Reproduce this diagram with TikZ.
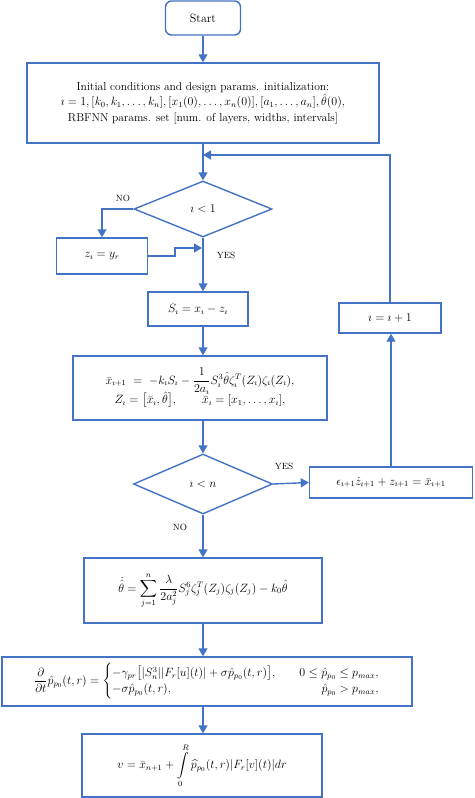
\documentclass[tikz,border=0pt]{standalone}
\usepackage{amsmath}
\usetikzlibrary{shapes.geometric,arrows.meta}
\definecolor{fcblue}{RGB}{68,114,196}
\begin{document}
\begin{tikzpicture}[x=1pt,y=-1pt,
  box/.style={draw=fcblue, line width=1.4pt, fill=white, inner sep=2pt, align=center, font=\fontsize{12}{16}\selectfont},
  dec/.style={diamond, draw=fcblue, line width=1.4pt, fill=white, inner sep=0pt, font=\fontsize{12}{14}\selectfont},
  arr/.style={draw=fcblue, line width=1.4pt, -{Triangle[length=8pt,width=9pt]}},
  lbl/.style={font=\fontsize{9}{10}\selectfont, inner sep=1pt}]
\useasboundingbox[fill=white] (0,0) rectangle (474,798);

\node[box, rounded corners=6pt, minimum width=75pt, minimum height=34pt] (start) at (203,18) {Start};
\node[box, minimum width=352pt, minimum height=80pt, font=\fontsize{11.5}{15.5}\selectfont] (init) at (203,103)
  {Initial conditions and design params. initialization:\\
   $\imath=1, [k_0,k_1,\dots,k_n], [x_1(0),\dots,x_n(0)], [a_1,\dots,a_n], \hat{\theta}(0),$\\
   RBFNN params. set [num. of layers, widths, intervals]};
\node[dec, minimum width=138pt, minimum height=56pt] (d1) at (203,209) {$\imath<1$};
\node[box, minimum width=91pt, minimum height=36pt] (z) at (102,256) {$z_\imath = y_r$};
\node[box, minimum width=100pt, minimum height=34pt] (S) at (198,309) {$S_\imath = x_\imath - z_\imath$};
\node[box, minimum width=254pt, minimum height=64pt] (xb) at (200,388)
  {$\bar{x}_{\imath+1} \;=\; -k_\imath S_\imath - \dfrac{1}{2a_\imath} S_\imath^3\hat{\theta}\zeta_\imath^T(Z_\imath)\zeta_\imath(Z_\imath),$\\[-3pt]
   $Z_\imath = \bigl[\bar{x}_\imath,\hat{\theta}\bigr],\qquad \bar{x}_\imath = [x_1,\dots,x_\imath],$};
\node[dec, minimum width=139pt, minimum height=60pt] (d2) at (203,484) {$\imath<n$};
\node[box, minimum width=163pt, minimum height=31pt] (eps) at (391,482.5) {$\epsilon_{\imath+1}\dot{z}_{\imath+1} + z_{\imath+1} = \bar{x}_{\imath+1}$};
\node[box, minimum width=102pt, minimum height=30pt] (inc) at (390,318) {$\imath = \imath + 1$};
\node[box, minimum width=238pt, minimum height=65pt] (th) at (203,590.5)
  {$\dot{\hat{\theta}} = \displaystyle\sum_{j=1}^{n} \frac{\lambda}{2a_j^2} S_j^6\zeta_j^T(Z_j)\zeta_j(Z_j) - k_0\hat{\theta}$};
\node[box, minimum width=410pt, minimum height=49pt] (p) at (207,681.5)
  {$\dfrac{\partial}{\partial t}\hat{p}_{p_0}(t,r) = \left\{\begin{array}{@{}l@{\qquad}r@{}}
     -\gamma_{pr}\bigl[|S_n^3||F_r[u](t)| + \sigma\hat{p}_{p_0}(t,r)\bigr], & 0\le \hat{p}_{p_0}\le p_{max},\\
     -\sigma\hat{p}_{p_0}(t,r), & \hat{p}_{p_0} > p_{max},
   \end{array}\right.$};
\node[box, minimum width=240pt, minimum height=63pt] (v) at (202,765.5)
  {$v = \bar{x}_{n+1} + \displaystyle\int\limits_0^R \widehat{p}_{p_0}(t,r)|F_r[v](t)|dr$};

\coordinate (fb) at (203,155);
\coordinate (zr1) at (175,256);
\coordinate (zr2) at (175,248);
\coordinate (zin) at (202,248);

\draw[arr] (start.south) -- (init.north);
\draw[arr] (init.south) -- (d1.north);
\draw[arr] (inc.north) |- (fb);
\draw[arr] (d1.west) -| (z.north);
\draw[arr] (z.east) -- (zr1) -- (zr2) -- (zin);
\draw[arr] (d1.south) -- (d1.south |- S.north);
\draw[arr] (S.south -| d1.south) -- (xb.north -| d1.south);
\draw[arr] (xb.south -| d2.north) -- (d2.north);
\draw[arr] (d2.east) -- (eps.west);
\draw[arr] (eps.north) -- (eps.north |- inc.south);
\draw[arr] (d2.south) -- (d2.south |- th.north);
\draw[arr] (th.south) -- (th.south |- p.north);
\draw[arr] (p.south -| th.south) -- (v.north -| th.south);

\node[lbl] (no1) at (123,198) {NO};
\node[lbl] (yes1) at (226,255) {YES};
\node[lbl] (yes2) at (284,466) {YES};
\node[lbl] (no2) at (180,527) {NO};
\end{tikzpicture}
\end{document}
